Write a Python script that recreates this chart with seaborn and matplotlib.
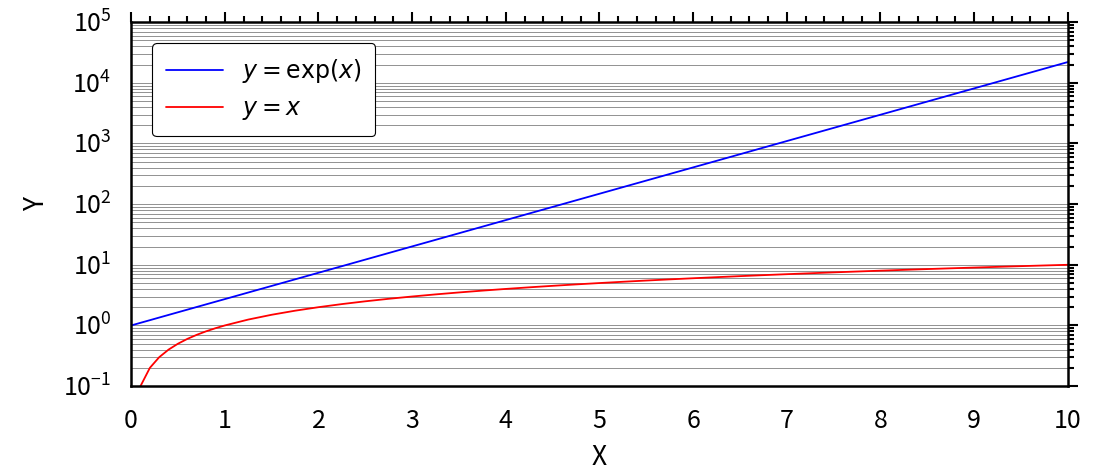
import pandas as pd
import matplotlib
matplotlib.use("Agg")
import matplotlib.pyplot as plt
import matplotlib.ticker as mticker
import seaborn as sns

# x sample points and values
x_vals = [0.0, 0.1, 0.2, 0.3, 0.4, 0.5, 0.6, 0.7, 0.8, 0.9, 1.0,
          1.25, 1.5, 1.75, 2.0, 2.25, 2.5, 2.75, 3.0, 3.25, 3.5, 3.75, 4.0,
          4.25, 4.5, 4.75, 5.0, 5.25, 5.5, 5.75, 6.0, 6.25, 6.5, 6.75, 7.0,
          7.25, 7.5, 7.75, 8.0, 8.25, 8.5, 8.75, 9.0, 9.25, 9.5, 9.75, 10.0]
y_exp = [1.0, 1.105, 1.221, 1.350, 1.492, 1.649, 1.822, 2.014, 2.226, 2.460, 2.718,
         3.490, 4.482, 5.755, 7.389, 9.488, 12.18, 15.64, 20.09, 25.79, 33.12, 42.52, 54.60,
         70.11, 90.02, 115.6, 148.4, 190.6, 244.7, 314.2, 403.4, 518.0, 665.1, 854.1, 1097,
         1408, 1808, 2322, 2981, 3828, 4915, 6311, 8103, 10405, 13360, 17154, 22026]
y_lin = [0.0, 0.1, 0.2, 0.3, 0.4, 0.5, 0.6, 0.7, 0.8, 0.9, 1.0,
         1.25, 1.5, 1.75, 2.0, 2.25, 2.5, 2.75, 3.0, 3.25, 3.5, 3.75, 4.0,
         4.25, 4.5, 4.75, 5.0, 5.25, 5.5, 5.75, 6.0, 6.25, 6.5, 6.75, 7.0,
         7.25, 7.5, 7.75, 8.0, 8.25, 8.5, 8.75, 9.0, 9.25, 9.5, 9.75, 10.0]
labels = [r"$y=\exp(x)$", r"$y=x$"]
colors = ["blue", "red"]

sns.set_style("white")
plt.rcParams["font.family"] = ["Noto Sans CJK JP", "DejaVu Sans"]
plt.rcParams["axes.unicode_minus"] = False
plt.rcParams["font.size"] = 17
for key in ["text.color", "axes.labelcolor", "xtick.color", "ytick.color"]:
    plt.rcParams[key] = "black"

df = pd.concat([
    pd.DataFrame({"x": x_vals, "y": y_exp, "series": labels[0]}),
    pd.DataFrame({"x": x_vals[1:], "y": y_lin[1:], "series": labels[1]}),
])

fig, ax = plt.subplots(figsize=(11.02, 4.72), dpi=100)
sns.lineplot(data=df, x="x", y="y", hue="series", hue_order=labels,
             palette=dict(zip(labels, colors)), lw=1.3, ax=ax, sort=False)
ax.set_yscale("log")
ax.set_xlim(0, 10)
ax.set_ylim(1e-1, 1e5)
ax.set_xlabel("X", fontsize=19, labelpad=7)
ax.set_ylabel("Y", fontsize=19, labelpad=10)

ax.xaxis.set_major_locator(mticker.MultipleLocator(1))
ax.xaxis.set_minor_locator(mticker.MultipleLocator(0.2))
ax.yaxis.set_minor_locator(mticker.LogLocator(base=10, subs=range(2, 10), numticks=20))
ax.yaxis.set_minor_formatter(mticker.NullFormatter())
# ticks point outwards on all four sides
ax.tick_params(which="both", direction="out", top=True, right=True, width=1.5, labelsize=18)
ax.tick_params(which="major", length=7)
ax.tick_params(which="minor", length=4.5)
ax.tick_params(axis="x", which="major", pad=9)
ax.tick_params(axis="y", which="major", pad=7)
ax.grid(True, which="both", axis="y", color="gray", lw=0.6)
for sp in ax.spines.values():
    sp.set_color("black")
    sp.set_linewidth(1.8)

leg = ax.legend(loc="upper left", fontsize=17, frameon=True, fancybox=True,
                edgecolor="black", framealpha=1, borderpad=0.6, handlelength=2.4,
                borderaxespad=0, bbox_to_anchor=(0.0224, 0.942))
leg.get_frame().set_linewidth(0.8)

plt.subplots_adjust(left=0.119, right=0.969, top=0.953, bottom=0.182)
fig.savefig("out.png", dpi=100)
